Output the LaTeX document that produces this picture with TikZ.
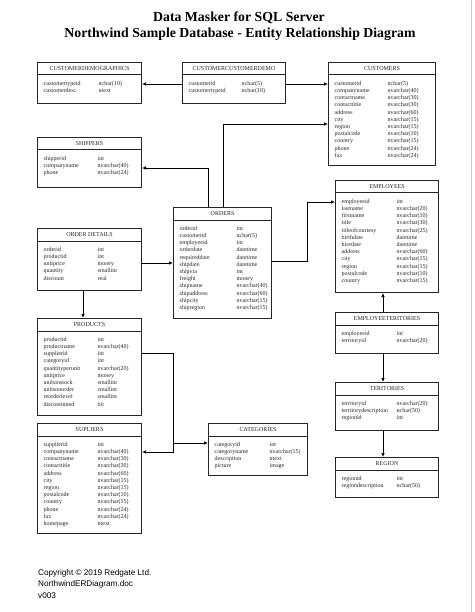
\documentclass[tikz,border=0pt]{standalone}
\usepackage{fontspec}
\setmainfont{Liberation Serif}
\newfontfamily\footfont{Liberation Sans}
\usetikzlibrary{arrows.meta}
\newcommand{\erbox}[8]{%
  \node[tbl, minimum width=#4pt, minimum height=#5pt, anchor=north west] (#1) at (#2,#3) {};
  \draw[boxline] ([yshift=-13pt]#1.north west) -- ([yshift=-13pt]#1.north east);
  \node[hdr] (#1-h) at ([yshift=-6.8pt]#1.north) {#6};
  \node[rowtext, anchor=north west] (#1-r) at ([xshift=6.5pt,yshift=-18pt]#1.north west)
    {\begin{tabular}{@{}p{#7pt}@{}l@{}}#8\end{tabular}};
}
\begin{document}
\begin{tikzpicture}[x=1pt,y=-1pt,
  tbl/.style={draw=black!85, line width=1pt, inner sep=0pt, fill=white},
  boxline/.style={draw=black!85, line width=1pt},
  hdr/.style={inner sep=0pt, text=black!85, font=\fontsize{6}{7.2}\selectfont},
  rowtext/.style={inner sep=0pt, text=black!85, font=\fontsize{6}{7.2}\selectfont},
  conn/.style={draw=black, line width=0.9pt, -{Latex[length=4pt,width=3.6pt]}},
  titletext/.style={inner sep=0pt, font=\bfseries\fontsize{13.8}{16}\selectfont},
  foot/.style={inner sep=0pt, align=left, font=\footfont\fontsize{8.2}{11.5}\selectfont}]
\useasboundingbox (0,0) rectangle (474,612);
\fill[white] (0,0) rectangle (474,612);
\draw[black!20, line width=1pt] (471,0) -- (471,612);

\node[titletext] (t1) at (239,18) {Data Masker for SQL Server};
\node[titletext] (t2) at (240,34) {Northwind Sample Database - Entity Relationship Diagram};

\erbox{cdg}{37}{62}{104}{41}{CUSTOMERDEMOGRAPHICS}{55}{customertypeid & nchar(10)\\ customerdesc & ntext}
\erbox{ccd}{182}{62}{103}{41}{CUSTOMERCUSTOMERDEMO}{53}{customerid & nchar(5)\\ customertypeid & nchar(10)}
\erbox{cust}{328}{62}{107}{103}{CUSTOMERS}{53}{customerid & nchar(5)\\ companyname & nvarchar(40)\\ contactname & nvarchar(30)\\ contacttitle & nvarchar(30)\\ address & nvarchar(60)\\ city & nvarchar(15)\\ region & nvarchar(15)\\ postalcode & nvarchar(10)\\ country & nvarchar(15)\\ phone & nvarchar(24)\\ fax & nvarchar(24)}
\erbox{ship}{37}{137}{104}{50}{SHIPPERS}{54}{shipperid & int\\ companyname & nvarchar(40)\\ phone & nvarchar(24)}
\erbox{emp}{335}{180}{103}{112}{EMPLOYEES}{55}{employeeid & int\\ lastname & nvarchar(20)\\ firstname & nvarchar(10)\\ title & nvarchar(30)\\ titleofcourtesy & nvarchar(25)\\ birthdate & datetime\\ hiredate & datetime\\ address & nvarchar(60)\\ city & nvarchar(15)\\ region & nvarchar(15)\\ postalcode & nvarchar(10)\\ country & nvarchar(15)}
\erbox{od}{37}{228}{104}{62}{ORDER DETAILS}{54}{orderid & int\\ productid & int\\ unitprice & money\\ quantity & smallint\\ discount & real}
\erbox{orders}{173}{207}{98}{111}{ORDERS}{57}{orderid & int\\ customerid & nchar(5)\\ employeeid & int\\ orderdate & datetime\\ requireddate & datetime\\ shipdate & datetime\\ shipvia & int\\ freight & money\\ shipname & nvarchar(40)\\ shipaddress & nvarchar(60)\\ shipcity & nvarchar(15)\\ shipregion & nvarchar(15)}
\erbox{et}{335}{312}{103}{41}{EMPLOYEETERITORIES}{55}{employeeid & int\\ territoryid & nvarchar(20)}
\erbox{prod}{37}{318}{104}{97}{PRODUCTS}{54}{productid & int\\ productname & nvarchar(40)\\ supplierid & int\\ categoryid & int\\ quantityperunit & nvarchar(20)\\ unitprice & money\\ unitsinstock & smallint\\ unitsonorder & smallint\\ reorderlevel & smallint\\ discontinued & bit}
\erbox{ter}{335}{382}{103}{48}{TERITORIES}{55}{territoryid & nvarchar(20)\\ territorydescription & nchar(50)\\ regionid & int}
\erbox{sup}{37}{423}{104}{110}{SUPLIERS}{54}{supplierid & int\\ companyname & nvarchar(40)\\ contactname & nvarchar(30)\\ contacttitle & nvarchar(30)\\ address & nvarchar(60)\\ city & nvarchar(15)\\ region & nvarchar(15)\\ postalcode & nvarchar(10)\\ country & nvarchar(15)\\ phone & nvarchar(24)\\ fax & nvarchar(24)\\ homepage & ntext}
\erbox{cat}{208}{423}{99}{52}{CATEGORIES}{55}{categoryid & int\\ categoryname & nvarchar(15)\\ description & ntext\\ picture & image}
\erbox{reg}{335}{457}{103}{40}{REGION}{55}{regionid & int\\ regiondescription & nchar(50)}

\coordinate (lvA) at (0,84);
\coordinate (lvC) at (223,124);
\coordinate (lvD) at (208,168);
\coordinate (lvE1) at (0,261);
\coordinate (lvE2) at (307,202);
\coordinate (lvF) at (0,263);
\coordinate (lvG) at (83,0);
\coordinate (lvH1) at (173,353);
\coordinate (lvH2) at (0,452);
\coordinate (lvI) at (0,443);
\coordinate (lvJ) at (383,0);

\draw[conn] (ccd.west |- lvA) -- (cdg.east |- lvA);
\draw[conn] (ccd.east |- lvA) -- (cust.west |- lvA);
\draw[conn] (orders.north -| lvC) |- (cust.west |- lvC);
\draw[conn] (orders.north -| lvD) |- (ship.east |- lvD);
\draw[conn] (orders.east |- lvE1) -| (lvE2) -- (emp.west |- lvE2);
\draw[conn] (od.east |- lvF) -- (orders.west |- lvF);
\draw[conn] (od.south -| lvG) -- (prod.north -| lvG);
\draw[conn] (prod.east |- lvH1) -| (lvH1 |- lvH2) -- (sup.east |- lvH2);
\draw[conn] (lvH1 |- lvI) -- (cat.west |- lvI);
\draw[conn] (et.north -| lvJ) -- (emp.south -| lvJ);
\draw[conn] (et.south -| lvJ) -- (ter.north -| lvJ);
\draw[conn] (ter.south -| lvJ) -- (reg.north -| lvJ);

\node[foot, anchor=north west] (foot) at (38,569) {Copyright © 2019 Redgate Ltd.\\NorthwindERDiagram.doc\\v003};
\end{tikzpicture}
\end{document}
